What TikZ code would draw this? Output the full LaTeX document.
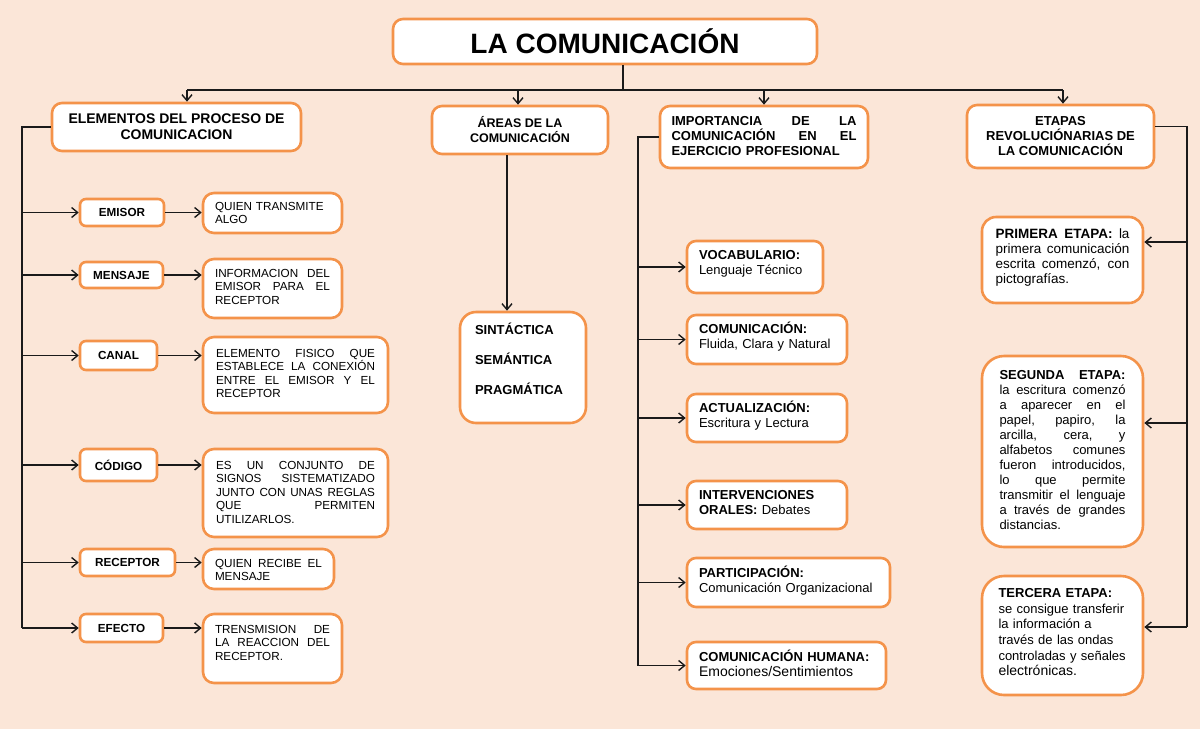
\documentclass[tikz,border=0pt]{standalone}
\usepackage{fontspec}
\setmainfont{Liberation Sans}
\usetikzlibrary{arrows.meta}
\definecolor{bgc}{HTML}{FBE6D8}
\definecolor{oc}{HTML}{F4934A}
\definecolor{lnc}{HTML}{1A1A1A}
\newlength\jwid
\newcommand\jl[1]{\leavevmode\hbox to \jwid{\spaceskip=0.278em plus 1fil\relax #1}\\}
\newcommand\fs[2]{\fontsize{#1}{#2}\selectfont}
\begin{document}
\begin{tikzpicture}[x=1pt,y=-1pt,
  bx/.style={draw=oc, line width=2.6pt, fill=white, inner sep=0pt, rounded corners=#1},
  bx/.default=9pt,
  jw/.style={text width=#1, execute at begin node={\setlength\jwid{#1}}},
  lab/.style={bx=6pt, font=\bfseries\fs{11.7}{14}},
  desc/.style={bx=11pt, font=\fs{11.7}{13.5}, align=left},
  imc/.style={bx=9pt, font=\fs{13}{15}, align=left, text height=10pt},
  conn/.style={draw=lnc, line width=1.4pt},
  arr/.style={conn, -{Straight Barb[length=6pt,width=10pt]}}]
\fill[bgc] (0,0) rectangle (1200,729);
\useasboundingbox (0,0) rectangle (1200,729);

% top level
\node[bx=10pt, minimum width=424pt, minimum height=45pt, font=\bfseries\fs{28}{32}] (title) at (605,41.5) {LA COMUNICACIÓN};
\node[bx=10pt, minimum width=249pt, minimum height=48pt, align=center, font=\bfseries\fs{14}{16}] (elem) at (176.5,127) {ELEMENTOS DEL PROCESO DE\\COMUNICACION};
\node[bx=10pt, minimum width=176pt, minimum height=48pt, align=center, font=\bfseries\fs{12.5}{15}] (areas) at (520,130) {ÁREAS DE LA\\COMUNICACIÓN};
\node[bx=10pt, minimum width=208pt, minimum height=62pt, jw=185pt, align=left, font=\bfseries\fs{13}{15}, text height=10pt, text depth=32.6pt] (imp) at (764,137) {\jl{IMPORTANCIA DE LA}\jl{COMUNICACIÓN EN EL}EJERCICIO PROFESIONAL};
\node[bx=10pt, minimum width=187pt, minimum height=63pt, align=center, font=\bfseries\fs{13}{15}] (etapas) at (1060.5,136.5) {ETAPAS\\REVOLUCIÓNARIAS DE\\LA COMUNICACIÓN};

% left column
\node[lab, minimum width=84pt, minimum height=27pt] (emisor) at (122,212.5) {EMISOR};
\node[lab, minimum width=83pt, minimum height=26pt] (mensaje) at (121.5,275) {MENSAJE};
\node[lab, minimum width=77pt, minimum height=29pt] (canal) at (118.5,355.5) {CANAL};
\node[lab, minimum width=77pt, minimum height=32pt] (codigo) at (118.5,465) {CÓDIGO};
\node[lab, minimum width=95pt, minimum height=27pt] (receptor) at (127.5,562.5) {RECEPTOR};
\node[lab, minimum width=83pt, minimum height=28pt] (efecto) at (121.5,628) {EFECTO};

\node[desc, minimum width=139pt, minimum height=40pt, jw=115pt, text height=10pt, text depth=15.6pt] (d1) at (272.5,213) {QUIEN TRANSMITE\\ALGO};
\node[desc, minimum width=139pt, minimum height=59pt, jw=115pt, text height=10pt, text depth=32.6pt] (d2) at (272.5,288.5) {\jl{INFORMACION DEL}\jl{EMISOR PARA EL}RECEPTOR};
\node[desc, minimum width=185pt, minimum height=76pt, jw=159pt, text height=10pt, text depth=45.6pt] (d3) at (295.5,375) {\jl{ELEMENTO FISICO QUE}\jl{ESTABLECE LA CONEXIÓN}\jl{ENTRE EL EMISOR Y EL}RECEPTOR};
\node[desc, minimum width=185pt, minimum height=88pt, jw=159pt, text height=10pt, text depth=57.6pt] (d4) at (295.5,493) {\jl{ES UN CONJUNTO DE}\jl{SIGNOS SISTEMATIZADO}\jl{JUNTO CON UNAS REGLAS}\jl{QUE PERMITEN}UTILIZARLOS.};
\node[desc, minimum width=131pt, minimum height=40pt, jw=107pt, text height=10pt, text depth=13.6pt] (d5) at (268.5,569) {\jl{QUIEN RECIBE EL}MENSAJE};
\node[desc, minimum width=139pt, minimum height=69pt, jw=115pt, text height=10pt, text depth=40.6pt] (d6) at (272.5,648.5) {\jl{TRENSMISION DE}\jl{LA REACCION DEL}RECEPTOR.};

% areas
\node[bx=16pt, minimum width=126pt, minimum height=111pt, text width=96pt, align=left, font=\bfseries\fs{13}{30}, text height=10pt, text depth=75.8pt] (sint) at (523,367.5) {SINTÁCTICA\\SEMÁNTICA\\PRAGMÁTICA};

% importancia children
\node[imc, minimum width=136pt, minimum height=52pt, text width=112pt, text depth=24.8pt] (voc) at (755,267) {\textbf{VOCABULARIO:}\\Lenguaje Técnico};
\node[imc, minimum width=160pt, minimum height=49pt, text width=136pt, text depth=21.8pt] (com) at (767,339.5) {\textbf{COMUNICACIÓN:}\\Fluida, Clara y Natural};
\node[imc, minimum width=160pt, minimum height=48pt, text width=136pt, text depth=20.8pt] (act) at (767,418) {\textbf{ACTUALIZACIÓN:}\\Escritura y Lectura};
\node[imc, minimum width=160pt, minimum height=48pt, text width=136pt, text depth=20.8pt] (int) at (767,505) {\textbf{INTERVENCIONES}\\\textbf{ORALES:} Debates};
\node[imc, minimum width=203pt, minimum height=49pt, text width=179pt, text depth=19.8pt] (par) at (788.5,582.5) {\textbf{PARTICIPACIÓN:}\\Comunicación Organizacional};
\node[imc, minimum width=199pt, minimum height=47pt, text width=175pt, text depth=17.8pt] (hum) at (786.5,665.5) {\textbf{COMUNICACIÓN HUMANA:}\\{\fs{14}{15}Emociones/Sentimientos}};

% etapas children
\node[bx=14pt, minimum width=161pt, minimum height=86pt, jw=134pt, align=left, font=\fs{13.5}{15}, text height=10pt, text depth=52.6pt] (prim) at (1062.5,260) {\jl{\textbf{PRIMERA ETAPA:} la}\jl{primera comunicación}\jl{escrita comenzó, con}pictografías.};
\node[bx=22pt, minimum width=161pt, minimum height=191pt, jw=126pt, align=left, font=\fs{13}{15}, text height=10pt, text depth=153.8pt] (seg) at (1062.5,451.5) {\jl{\textbf{SEGUNDA ETAPA:}}\jl{la escritura comenzó}\jl{a aparecer en el}\jl{papel, papiro, la}\jl{arcilla, cera, y}\jl{alfabetos comunes}\jl{fueron introducidos,}\jl{lo que permite}\jl{transmitir el lenguaje}\jl{a través de grandes}distancias.};
\node[bx=22pt, minimum width=161pt, minimum height=119pt, text width=128pt, align=left, font=\fs{13}{15.6}, text height=10pt, text depth=85.8pt] (ter) at (1062.5,635.5) {\textbf{TERCERA ETAPA:}\\se consigue transferir\\la información a\\través de las ondas\\controladas y señales\\{\fs{14}{15.6}electrónicas.}};

% top bus
\coordinate (tb) at (623,90);
\coordinate (b1) at (187,90);
\coordinate (b2) at (518,90);
\coordinate (b3) at (764,90);
\coordinate (b4) at (1063,90);
\draw[conn] (title.south -| tb) -- (tb);
\draw[conn] (b1) -- (b4);
\draw[arr] (b1) -- (b1 |- elem.north);
\draw[arr] (b2) -- (b2 |- areas.north);
\draw[arr] (b3) -- (b3 |- imp.north);
\draw[arr] (b4) -- (b4 |- etapas.north);

% left spine
\coordinate (lbot) at (22,628);
\draw[conn] (elem.west) -| (lbot);
\foreach \n/\d in {emisor/d1, mensaje/d2, canal/d3, codigo/d4, receptor/d5, efecto/d6} {
  \draw[arr] (\n.west -| lbot) -- (\n.west);
  \draw[arr] (\n.east) -- (\n.east -| \d.west);
}

% areas
\coordinate (ax) at (507,0);
\draw[arr] (areas.south -| ax) -- (sint.north -| ax);

% importancia spine
\coordinate (ibot) at (638,665.5);
\draw[conn] (imp.west) -| (ibot);
\foreach \n in {voc, com, act, int, par, hum} {
  \draw[arr] (\n.west -| ibot) -- (\n.west);
}

% etapas spine
\coordinate (ec) at ([yshift=10pt]etapas.east);
\coordinate (r1) at (1187,242);
\coordinate (r2) at (1187,423);
\coordinate (r3) at (1187,627);
\draw[conn] (ec) -| (r3);
\draw[arr] (r1) -- (r1 -| prim.east);
\draw[arr] (r2) -- (r2 -| seg.east);
\draw[arr] (r3) -- (r3 -| ter.east);
\end{tikzpicture}
\end{document}
